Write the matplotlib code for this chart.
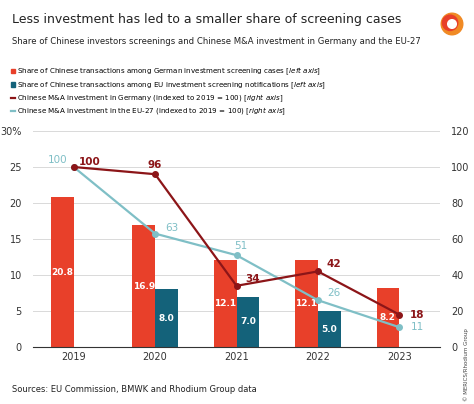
import numpy as np
import matplotlib.pyplot as plt
from matplotlib.patches import Rectangle, Circle
from matplotlib.lines import Line2D

years = ["2019", "2020", "2021", "2022", "2023"]
de_share = [20.8, 16.9, 12.1, 12.1, 8.2]
eu_share = [None, 8.0, 7.0, 5.0, None]
de_ma = [100, 96, 34, 42, 18]
eu_ma = [100, 63, 51, 26, 11]

RED = "#e8402a"
TEAL = "#14627a"
DARK = "#8c1518"
LIGHT = "#7fbfc6"

fig = plt.figure(figsize=(4.74, 4.04), dpi=100)
ax = fig.add_axes([33/474, 1-347/404, 407/474, 216/404])
ax2 = ax.twinx()
x = np.arange(len(years))
w = 0.28

for i in range(len(years)):
    ax.bar(x[i] - w/2, de_share[i], w, color=RED, zorder=2)
    ax.text(x[i] - w/2, de_share[i] / 2, f"{de_share[i]:.1f}",
            ha="center", va="center", color="white", fontsize=6.5, fontweight="bold", zorder=5)
    if eu_share[i] is not None:
        ax.bar(x[i] + w/2, eu_share[i], w, color=TEAL, zorder=2)
        ax.text(x[i] + w/2, eu_share[i] / 2, f"{eu_share[i]:.1f}",
                ha="center", va="center", color="white", fontsize=6.5, fontweight="bold", zorder=5)
ax.set_xlim(-0.5, 4.5)
ax.set_ylim(0, 30)
ax.set_yticks(range(0, 31, 5))
ax.set_yticklabels(["0", "5", "10", "15", "20", "25", "30%"])
ax.set_xticks(x)
ax.set_xticklabels(years)
ax.grid(axis="y", color="#d9d9d9", lw=0.7, zorder=0)
ax.set_axisbelow(True)

ax2.plot(x, eu_ma, color=LIGHT, lw=1.6, marker="o", ms=4, zorder=3)
ax2.plot(x, de_ma, color=DARK, lw=1.6, marker="o", ms=4, zorder=4)
ax2.set_ylim(0, 120)
ax2.set_yticks(range(0, 121, 20))

de_off = [(0.2, 3), (0, 5), (0.2, 4), (0.2, 4), (0.22, 0)]
eu_off = [(-0.2, 4), (0.2, 3), (0.05, 5), (0.2, 4), (0.22, 0)]
for i in range(len(years)):
    ax2.text(x[i] + de_off[i][0], de_ma[i] + de_off[i][1], str(de_ma[i]), color=DARK,
             fontsize=7.5, fontweight="bold", ha="center", va="center")
    ax2.text(x[i] + eu_off[i][0], eu_ma[i] + eu_off[i][1], str(eu_ma[i]), color=LIGHT,
             fontsize=7.5, ha="center", va="center")

for a in (ax, ax2):
    for s in a.spines.values():
        s.set_visible(False)
    a.tick_params(length=0, labelsize=7, colors="#333333")
ax.spines["bottom"].set_visible(True)
ax.spines["bottom"].set_color("#333333")
ax.tick_params(axis="y", pad=8)
ax2.tick_params(axis="y", pad=8)

fig.text(12/474, 1-20/404, "Less investment has led to a smaller share of screening cases",
         fontsize=9, va="center", color="#222222")
fig.text(12/474, 1-42/404, "Share of Chinese investors screenings and Chinese M&A investment in Germany and the EU-27",
         fontsize=6.1, va="center", color="#222222")

handles = [Rectangle((0, 0), 1, 1, color=RED), Rectangle((0, 0), 1, 1, color=TEAL),
           Line2D([], [], color=DARK, lw=1.6), Line2D([], [], color=LIGHT, lw=1.6)]
labels = ["Share of Chinese transactions among German investment screening cases $\\it{[left\\ axis]}$",
          "Share of Chinese transactions among EU investment screening notifications $\\it{[left\\ axis]}$",
          "Chinese M&A investment in Germany (indexed to 2019 = 100) $\\it{[right\\ axis]}$",
          "Chinese M&A investment in the EU-27 (indexed to 2019 = 100) $\\it{[right\\ axis]}$"]
fig.legend(handles, labels, loc="upper left", bbox_to_anchor=(8/474, 1-63/404), frameon=False,
           fontsize=5.1, handlelength=0.6, handleheight=0.6, handletextpad=0.3, labelspacing=0.25,
           borderaxespad=0)

fig.text(12/474, 1-390/404, "Sources: EU Commission, BMWK and Rhodium Group data", fontsize=6, va="center",
         color="#222222")
fig.text(466/474, 1-365/404, "© MERICS/Rhodium Group", fontsize=4, rotation=90, va="center", ha="center",
         color="#444444")

# small logo mark in the corner
lax = fig.add_axes([440/474, 1-36/404, 24/474, 24/404])
lax.add_patch(Circle((0.5, 0.5), 0.45, color="#f08a24"))
lax.add_patch(Circle((0.42, 0.55), 0.32, color="#e8402a"))
lax.add_patch(Circle((0.5, 0.5), 0.18, color="white"))
lax.set_xlim(0, 1)
lax.set_ylim(0, 1)
lax.set_aspect("equal")
lax.axis("off")

fig.savefig("out.png", dpi=100)
